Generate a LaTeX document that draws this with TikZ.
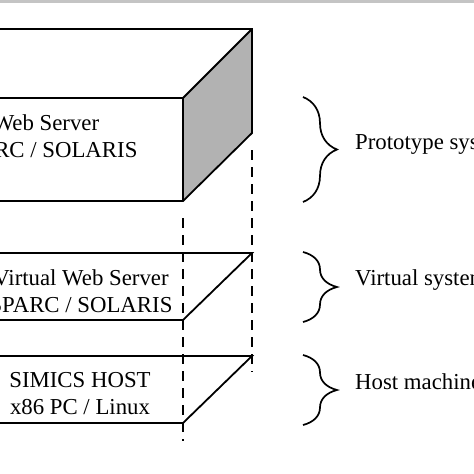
\documentclass[tikz,border=0pt]{standalone}
\usepackage{fontspec}
\setmainfont{Liberation Serif}
\usetikzlibrary{decorations.pathreplacing}

\begin{document}
\begin{tikzpicture}[
  x=1pt, y=-1pt,
  edge/.style = {line width=1.8pt, line join=miter},
  guide/.style = {line width=1.6pt, dash pattern=on 10pt off 7pt},
  curly/.style = {decorate, decoration={brace, amplitude=34pt},
    line width=1.7pt},
  every node/.style = {font=\fontsize{22.8}{27}\selectfont,
    inner sep=0pt, align=center, anchor=base}]
  \useasboundingbox (0,0) rectangle (474,474);
  \clip (0,0) rectangle (474,474);
  \fill[black!23] (0,0) rectangle (474,2.5);
  % prototype box
  \coordinate (protoFT) at (183,98);
  \coordinate (protoBT) at (252,29);
  \coordinate (protoBB) at (252,133);
  \coordinate (protoFB) at (183,201);
  \fill[black!30] (protoFT) -- (protoBT) -- (protoBB) -- (protoFB) -- cycle;
  \draw[edge] (-20,29) -- (protoBT) -- (protoBB) -- (protoFB) -- (-20,201);
  \draw[edge] (-20,98) -- (protoFT) -- (protoBT);
  \draw[edge] (protoFT) -- (protoFB);
  % virtual slab
  \coordinate (virtBT) at (252,253);
  \coordinate (virtFB) at (183,320);
  \draw[edge] (-20,253) -- (virtBT) -- (virtFB) -- (-20,320);
  % host slab
  \coordinate (hostBT) at (252,356);
  \coordinate (hostFB) at (183,423);
  \draw[edge] (-20,356) -- (hostBT) -- (hostFB) -- (-20,423);
  % dashed guides
  \coordinate (guideA) at (183,218);
  \coordinate (guideA') at (183,441);
  \coordinate (guideB) at (252,150);
  \coordinate (guideB') at (252,372);
  \draw[guide] (guideA) -- (guideA');
  \draw[guide] (guideB) -- (guideB');
  % box texts (base = last line)
  \node (proto) at (46,157) {Web Server\\SPARC / SOLARIS};
  \node (virt) at (81,312) {Virtual Web Server\\SPARC / SOLARIS};
  \node (host) at (80,414) {SIMICS HOST\\x86 PC / Linux};
  % braces and labels
  \coordinate (braceA) at (303,97);
  \coordinate (braceA') at (303,202);
  \coordinate (braceB) at (303,252);
  \coordinate (braceB') at (303,322);
  \coordinate (braceC) at (303,355);
  \coordinate (braceC') at (303,425);
  \draw[curly] (braceA) -- (braceA');
  \draw[curly] (braceB) -- (braceB');
  \draw[curly] (braceC) -- (braceC');
  \node[anchor=base west] (protoLbl) at (355,149) {Prototype system};
  \node[anchor=base west] (virtLbl) at (355,285) {Virtual system};
  \node[anchor=base west] (hostLbl) at (355,389) {Host machine};
\end{tikzpicture}
\end{document}
